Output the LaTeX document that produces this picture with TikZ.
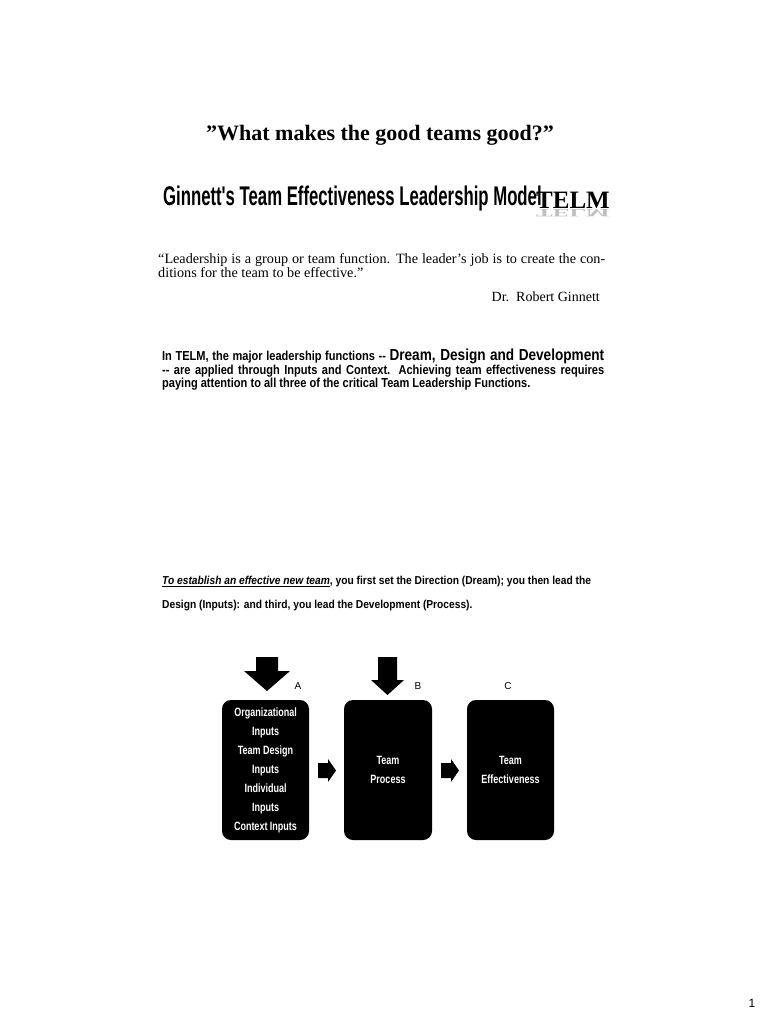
\documentclass[tikz,border=0pt]{standalone}
\usepackage{fontspec}
\usepackage{graphicx}
\setmainfont{Liberation Serif}
\newfontfamily\ssf{Liberation Sans}
\begin{document}
\begin{tikzpicture}[x=1pt,y=-1pt,
  blk/.style={fill=black,rounded corners=9pt},
  wt/.style={text=white,font=\ssf\bfseries\fontsize{12}{19}\selectfont,align=center,xscale=0.75}]
\useasboundingbox (0,0) rectangle (768,1024);
\node (t) at (380,135) {\fontsize{22}{24}\selectfont\bfseries \char"22 What makes the good teams good?\char"22};
\node[anchor=west,xscale=0.62,inner sep=0] (g) at (163,199) {\ssf\bfseries\fontsize{27}{28}\selectfont Ginnett's Team Effectiveness Leadership Model};
\node[anchor=west,inner sep=0] (telm) at (536,200) {\fontsize{25}{26}\selectfont\bfseries TELM};
\node[anchor=west,opacity=0.25,inner sep=0] (telmr) at (536,213) {\scalebox{1}[-0.45]{\fontsize{25}{26}\selectfont\bfseries TELM}};
\node[anchor=north west,text width=447pt,align=justify,inner sep=0] (q) at (158,253) {\fontsize{14.2}{18}\selectfont ``Leadership is a group or team function. The leader's job is to create the conditions for the team to be effective.''};
\node[anchor=east,inner sep=0] (rg) at (600,297) {\fontsize{14}{16}\selectfont Dr.\ \ Robert Ginnett};
\node[anchor=north west,text width=520pt,align=justify,inner sep=0,xscale=0.85] (p) at (162,349) {\ssf\bfseries\fontsize{13}{17}\selectfont In TELM, the major leadership functions -- {\fontsize{16}{17}\selectfont Dream, Design and Development} -- are applied through Inputs and Context. Achieving team effectiveness requires paying attention to all three of the critical Team Leadership Functions.};
\node[anchor=west,inner sep=0,xscale=0.89] (l1) at (162,582) {\ssf\bfseries\fontsize{11.5}{14}\selectfont \underline{\itshape To establish an effective new team}, you first set the Direction (Dream); you then lead the};
\node[anchor=west,inner sep=0,xscale=0.89] (l2) at (162,606) {\ssf\bfseries\fontsize{11.5}{14}\selectfont Design (Inputs): and third, you lead the Development (Process).};
\fill[blk] (222,700) rectangle (309,840);
\fill[blk] (344,700) rectangle (432,840);
\fill[blk] (467,700) rectangle (554,840);
\node[wt] (a) at (265.5,770) {Organizational\\Inputs\\Team Design\\Inputs\\Individual\\Inputs\\Context Inputs};
\node[wt] (b) at (388,770) {Team\\Process};
\node[wt] (c) at (510.5,770) {Team\\Effectiveness};
\fill (256,657) -- (278,657) -- (278,671) -- (290,671) -- (267,691) -- (244,671) -- (256,671) -- cycle;
\fill (378,657) -- (397,657) -- (397,680) -- (404,680) -- (387.5,695) -- (371,680) -- (378,680) -- cycle;
\foreach \x in {318,441} \fill (\x,763) -- (\x+10,763) -- (\x+10,759) -- (\x+18,770.5) -- (\x+10,782) -- (\x+10,778) -- (\x,778) -- cycle;
\node (la) at (298,686) {\ssf\fontsize{10}{12}\selectfont A};
\node (lb) at (418,686) {\ssf\fontsize{10}{12}\selectfont B};
\node (lc) at (508,686) {\ssf\fontsize{10}{12}\selectfont C};
\node (pg) at (752,1003) {\ssf\fontsize{12}{14}\selectfont 1};
\end{tikzpicture}
\end{document}
